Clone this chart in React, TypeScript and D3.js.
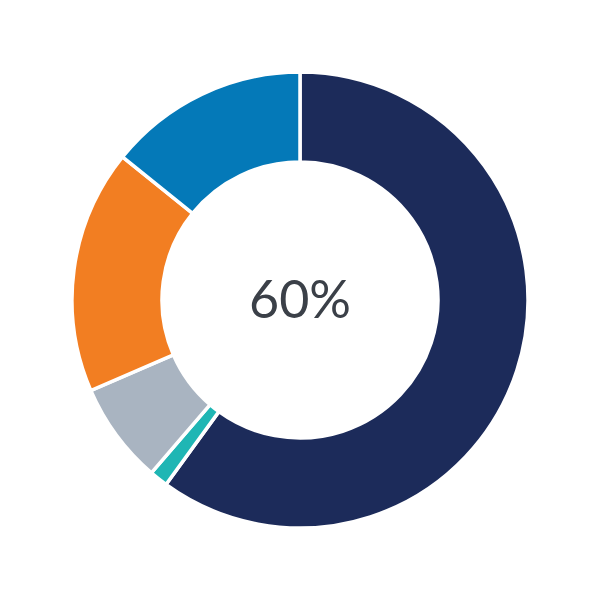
import React from "react";
import * as d3 from "d3";

const categories = ["Navy", "Teal", "Gray", "Orange", "Blue"];
const values = [60, 1.3, 7.2, 17.3, 14.2];
const colors = ["#1c2b5a", "#1fb6b4", "#a9b4c1", "#f27e22", "#0479b8"];
const centerLabel = "60%";

const width = 600;
const height = 600;
const outerRadius = 228;
const innerRadius = 138;

export default function App() {
    const pie = d3.pie<number>().sort(null).value(d => d);
    const arcs = pie(values);
    const arc = d3.arc<d3.PieArcDatum<number>>()
        .innerRadius(innerRadius)
        .outerRadius(outerRadius);

    return <svg width={width} height={height}
        style={{ position: "absolute", left: 0, top: 0, background: "#fff" }}>
        <g transform={`translate(${width / 2},${height / 2})`}>
            {arcs.map((a, i) =>
                <path key={categories[i]} d={arc(a) ?? ""} fill={colors[i]}
                    stroke="#fff" strokeWidth={3.5} strokeLinejoin="miter" />
            )}
            <text x={0} y={18} textAnchor="middle" fill="#3b4048"
                style={{ fontFamily: "Lato, 'Open Sans', sans-serif", fontSize: 52, fontWeight: 400 }}>
                {centerLabel}
            </text>
        </g>
    </svg>;
}
